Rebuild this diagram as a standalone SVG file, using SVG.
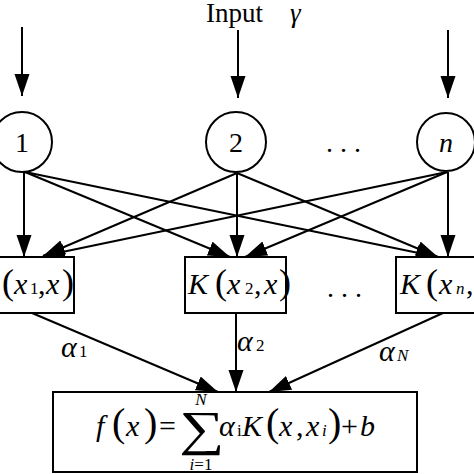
<svg xmlns="http://www.w3.org/2000/svg" width="474" height="474" viewBox="0 0 474 474">
<defs>
<marker id="ah" markerUnits="userSpaceOnUse" markerWidth="24" markerHeight="16" refX="22" refY="7.5" orient="auto">
<path d="M0,0 L22,7.5 L0,15 z" fill="#000"/>
</marker>
<style>
.ln{stroke:#000;stroke-width:2;fill:none;marker-end:url(#ah)}
.nd{stroke:#000;stroke-width:2;fill:#fff}
.t{font-family:"Liberation Serif","Times New Roman",serif;fill:#000}
.i{font-style:italic}
.p{font-size:36px;font-style:normal}
.s{font-size:17px;font-style:normal}
</style>
</defs>
<rect width="474" height="474" fill="#fff"/>
<text class="t" x="206" y="22" font-size="27">Input</text>
<text class="t i" x="290" y="22" font-size="27">γ</text>
<g id="connectors">
<line class="ln" x1="22" y1="27" x2="22" y2="96"/>
<line class="ln" x1="238" y1="30" x2="238" y2="98"/>
<line class="ln" x1="448" y1="30" x2="448" y2="98"/>
<line class="ln" x1="24" y1="172" x2="24" y2="257"/>
<line class="ln" x1="25" y1="172" x2="230" y2="257"/>
<line class="ln" x1="25" y1="172" x2="438" y2="257"/>
<line class="ln" x1="237" y1="173" x2="43" y2="256"/>
<line class="ln" x1="237" y1="173" x2="237" y2="257"/>
<line class="ln" x1="237" y1="173" x2="438" y2="257"/>
<line class="ln" x1="447" y1="172" x2="43" y2="256"/>
<line class="ln" x1="447" y1="172" x2="245" y2="257"/>
<line class="ln" x1="448" y1="172" x2="448" y2="257"/>
<line class="ln" x1="32" y1="313" x2="218" y2="392"/>
<line class="ln" x1="236" y1="313" x2="236" y2="392"/>
<line class="ln" x1="443" y1="313" x2="269" y2="392"/>
</g>
<g id="node-1">
<circle class="nd" cx="22" cy="142" r="30"/>
<text class="t" x="22" y="152" font-size="28" text-anchor="middle">1</text>
</g>
<g id="node-2">
<circle class="nd" cx="236" cy="142" r="30"/>
<text class="t" x="236" y="152" font-size="28" text-anchor="middle">2</text>
</g>
<g id="node-n">
<circle class="nd" cx="446" cy="142" r="29"/>
<text class="t i" x="446" y="152" font-size="28" text-anchor="middle">n</text>
</g>
<text class="t" x="326" y="152" font-size="28">. . .</text>
<g id="box-1">
<rect class="nd" x="-10" y="257" width="84" height="56"/>
<text class="t i" y="294" font-size="30"><tspan class="p" x="2">(</tspan><tspan x="14">x</tspan><tspan class="s" x="30">1</tspan><tspan x="38" font-style="normal">,</tspan><tspan x="46">x</tspan><tspan class="p" x="62">)</tspan></text>
</g>
<g id="box-2">
<rect class="nd" x="185" y="257" width="101" height="56"/>
<text class="t i" y="294" font-size="30"><tspan x="188">K</tspan><tspan class="p" x="215">(</tspan><tspan x="227">x</tspan><tspan class="s" x="245">2</tspan><tspan x="254" font-style="normal">,</tspan><tspan x="264">x</tspan><tspan class="p" x="279">)</tspan></text>
</g>
<text class="t" x="327" y="297" font-size="28">. . .</text>
<g id="box-n">
<rect class="nd" x="396" y="257" width="90" height="56"/>
<text class="t i" y="294" font-size="30"><tspan x="400">K</tspan><tspan class="p" x="426">(</tspan><tspan x="439">x</tspan><tspan x="456" font-size="17">n</tspan><tspan x="466" font-style="normal">,</tspan></text>
</g>
<g id="weights">
<text class="t i" y="357" font-size="30"><tspan x="61">α</tspan><tspan class="s" x="79">1</tspan></text>
<text class="t i" y="351" font-size="30"><tspan x="237">α</tspan><tspan class="s" x="256">2</tspan></text>
<text class="t i" y="361" font-size="30"><tspan x="379">α</tspan><tspan x="397" font-size="17">N</tspan></text>
</g>
<g id="output">
<rect class="nd" x="53" y="392" width="364" height="80"/>
<text class="t i" y="436" font-size="30"><tspan x="96">f</tspan><tspan x="112" font-size="40" font-style="normal">(</tspan><tspan x="126">x</tspan><tspan x="144" font-size="40" font-style="normal">)</tspan><tspan x="159" font-style="normal">=</tspan><tspan x="219">α</tspan><tspan class="s" x="237">i</tspan><tspan x="242">K</tspan><tspan x="266" font-size="40" font-style="normal">(</tspan><tspan x="279">x</tspan><tspan x="296" font-style="normal">,</tspan><tspan x="306">x</tspan><tspan x="322" font-size="17">i</tspan><tspan x="328" font-size="40" font-style="normal">)</tspan><tspan x="341" font-style="normal">+</tspan><tspan x="360">b</tspan></text>
<text class="t" transform="translate(202,445) scale(1.3,1)" x="0" y="0" font-size="49" text-anchor="middle">∑</text>
<text class="t i" x="201" y="405" font-size="17" text-anchor="middle">N</text>
<text class="t" x="201" y="470" font-size="17" text-anchor="middle"><tspan font-style="italic">i</tspan>=1</text>
</g>
</svg>
